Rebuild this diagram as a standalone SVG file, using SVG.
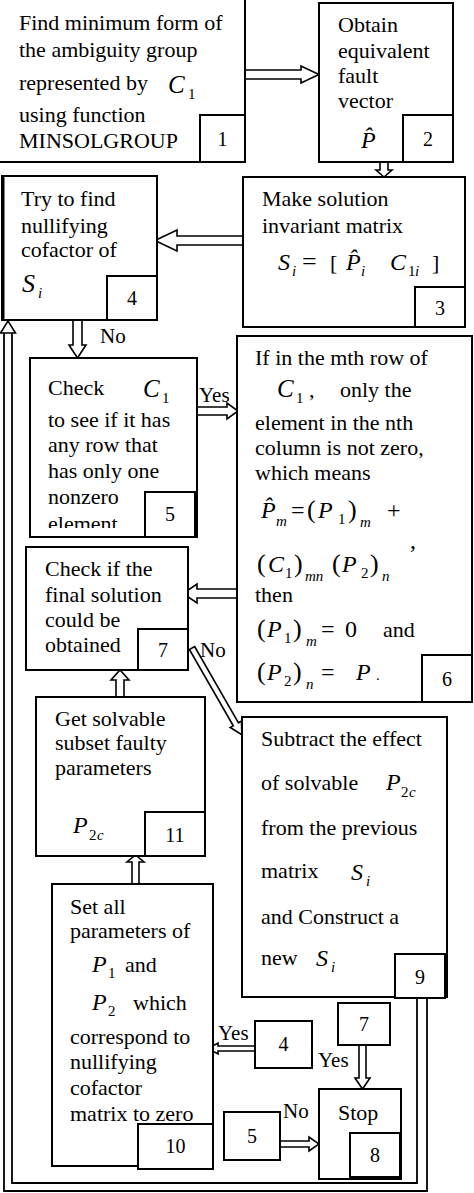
<svg xmlns="http://www.w3.org/2000/svg" width="474" height="1193" viewBox="0 0 474 1193">
<style>
text{font-family:"Liberation Serif","Times New Roman",serif;font-size:22px;fill:#000}
.m{font-style:italic;font-size:24px}
.p{font-size:26px}
.s{font-size:15px}
.si{font-size:15px;font-style:italic}
.n{font-size:20px;text-anchor:middle}
.lb{font-size:21px}
.box{fill:#fff;stroke:#000;stroke-width:2}
.arr{fill:#fff;stroke:#000;stroke-width:1.6;stroke-linejoin:miter}
.lp{fill:none;stroke:#000;stroke-width:1.8}
</style>
<defs>
<clipPath id="c5"><rect x="30" y="358" width="167" height="170"/></clipPath>
</defs>
<rect width="474" height="1193" fill="#fff"/>

<g id="connectors">
<polygon class="arr" points="245,70 301,70 301,66 319,74.5 301,83 301,79 245,79"/>
<polygon class="arr" points="380,162 380,170 376,170 384,177 392,170 388,170 388,162"/>
<polygon class="arr" points="243,236 177,236 177,230 155,240.5 177,251 177,245 243,245"/>
<polygon class="arr" points="73,320 73,345 69,345 77.5,358 86,345 82,345 82,320"/>
<polygon class="arr" points="197,407 227,407 227,403 238,411 227,419 227,415 197,415"/>
<polygon class="arr" points="237,589 197,589 197,584 183,593.5 197,603 197,598 237,598"/>
<polygon class="arr" transform="translate(192,648) rotate(60.1)" points="0,-3 88,-3 88,-6.5 100,0 88,6.5 88,3 0,3"/>
<polygon class="arr" points="116,697 116,680 111,680 120,670 129,680 124,680 124,697"/>
<polygon class="arr" points="132,884 132,862 127,862 135.5,855 144,862 139,862 139,884"/>
<polygon class="arr" points="255,1046 218,1046 218,1043 208,1048.5 218,1054 218,1051 255,1051"/>
<polygon class="arr" points="359,1045 359,1078 355,1078 362.5,1089 370,1078 366,1078 366,1045"/>
<polygon class="arr" points="280,1141 309,1141 309,1137 319,1144 309,1151 309,1147 280,1147"/>
<polyline class="lp" points="427,998 427,1191 4,1191 4,333"/>
<polyline class="lp" points="417,998 417,1183 12,1183 12,333"/>
<polygon class="arr" points="4,333 0.5,333 8,321 15.5,333 12,333"/>
<text class="lb" x="100" y="343">No</text>
<text class="lb" x="199" y="402">Yes</text>
<text class="lb" x="200" y="657">No</text>
<text class="lb" x="218" y="1040">Yes</text>
<text class="lb" x="318" y="1067">Yes</text>
<text class="lb" x="283" y="1118">No</text>
</g>

<g id="n1">
<rect class="box" x="-1" y="-1" width="246" height="163"/>
<text x="19" y="30">Find minimum form of</text>
<text x="19" y="57">the ambiguity group</text>
<text x="19" y="90">represented by</text>
<text class="m" x="168" y="93" style="font-size:25px">C</text>
<text class="s" x="188" y="99">1</text>
<text x="19" y="122">using function</text>
<text x="19" y="148">MINSOLGROUP</text>
<rect class="box" x="200" y="115" width="45" height="47"/>
<text class="n" x="222.5" y="146">1</text>
</g>

<g id="n2">
<rect class="box" x="319" y="3" width="134" height="159"/>
<text x="338" y="32">Obtain</text>
<text x="338" y="58">equivalent</text>
<text x="338" y="83">fault</text>
<text x="338" y="108">vector</text>
<text class="m" x="361" y="148">P̂</text>
<rect class="box" x="403" y="115" width="50" height="47"/>
<text class="n" x="428" y="146">2</text>
</g>

<g id="n3">
<rect class="box" x="243" y="177" width="222" height="150"/>
<text x="262" y="206">Make solution</text>
<text x="262" y="233">invariant matrix</text>
<text class="m" x="278" y="270">S</text>
<text class="si" x="292" y="276">i</text>
<text class="m" x="302" y="270" style="font-style:normal;font-size:26px">=</text>
<text x="330" y="270">[</text>
<text class="m" x="346" y="270">P̂</text>
<text class="si" x="361" y="276">i</text>
<text class="m" x="390" y="270">C</text>
<text class="s" x="408" y="276">1</text>
<text class="si" x="415" y="276">i</text>
<text x="432" y="270">]</text>
<rect class="box" x="415" y="287" width="50" height="40"/>
<text class="n" x="440" y="315">3</text>
</g>

<g id="n4">
<rect class="box" x="2" y="176" width="155" height="144"/>
<line x1="3" y1="176" x2="3" y2="320" stroke="#000" stroke-width="3"/>
<text x="21" y="206">Try to find</text>
<text x="21" y="233">nullifying</text>
<text x="21" y="257">cofactor of</text>
<text class="m" x="22" y="292" style="font-size:26px">S</text>
<text class="si" x="38" y="298">i</text>
<rect class="box" x="107" y="276" width="50" height="44"/>
<text class="n" x="132" y="305">4</text>
</g>

<g id="n5">
<rect class="box" x="30" y="358" width="167" height="179"/>
<g clip-path="url(#c5)">
<text x="48" y="395">Check</text>
<text class="m" x="143" y="397" style="font-size:25px">C</text>
<text class="s" x="162" y="403">1</text>
<text x="48" y="427">to see if it has</text>
<text x="48" y="452">any row that</text>
<text x="48" y="478">has only one</text>
<text x="48" y="504">nonzero</text>
<text x="48" y="531">element</text>
</g>
<rect class="box" x="145" y="492" width="50" height="45"/>
<text class="n" x="170" y="521">5</text>
</g>

<g id="n6">
<rect class="box" x="237" y="336" width="235" height="366"/>
<text x="255" y="365">If in the mth row of</text>
<text class="m" x="277" y="397" style="font-size:25px">C</text>
<text class="s" x="296" y="403">1</text>
<text x="309" y="397">,</text>
<text x="340" y="397">only the</text>
<text x="255" y="430">element in the nth</text>
<text x="255" y="455">column is not zero,</text>
<text x="255" y="480">which means</text>
<text class="m" x="261" y="518">P̂</text>
<text class="si" x="276" y="526">m</text>
<text class="m" x="291" y="518" style="font-style:normal">=</text>
<text class="p" x="307" y="518">(</text>
<text class="m" x="318" y="518">P</text>
<text class="s" x="338" y="524">1</text>
<text class="p" x="348" y="518">)</text>
<text class="si" x="360" y="527">m</text>
<text class="m" x="387" y="518" style="font-style:normal">+</text>
<text class="m" x="410" y="548" style="font-style:normal">,</text>
<text class="p" x="257" y="572">(</text>
<text class="m" x="268" y="572">C</text>
<text class="s" x="285" y="578">1</text>
<text class="p" x="294" y="572">)</text>
<text class="si" x="305" y="581">mn</text>
<text class="p" x="332" y="572">(</text>
<text class="m" x="342" y="572">P</text>
<text class="s" x="361" y="578">2</text>
<text class="p" x="370" y="572">)</text>
<text class="si" x="382" y="581">n</text>
<text x="255" y="602">then</text>
<text class="p" x="257" y="637">(</text>
<text class="m" x="267" y="637">P</text>
<text class="s" x="284" y="643">1</text>
<text class="p" x="293" y="637">)</text>
<text class="si" x="306" y="646">m</text>
<text class="m" x="321" y="637" style="font-style:normal">=</text>
<text class="m" x="345" y="637" style="font-style:normal">0</text>
<text x="383" y="637">and</text>
<text class="p" x="257" y="680">(</text>
<text class="m" x="267" y="680">P</text>
<text class="s" x="284" y="686">2</text>
<text class="p" x="293" y="680">)</text>
<text class="si" x="306" y="689">n</text>
<text class="m" x="321" y="680" style="font-style:normal">=</text>
<text class="m" x="356" y="680">P</text>
<text class="s" x="376" y="680">.</text>
<rect class="box" x="422" y="655" width="50" height="47"/>
<text class="n" x="447" y="686">6</text>
</g>

<g id="n7">
<rect class="box" x="26" y="547" width="162" height="123"/>
<text x="45" y="576">Check if the</text>
<text x="45" y="602">final solution</text>
<text x="45" y="627">could be</text>
<text x="45" y="652">obtained</text>
<rect class="box" x="138" y="629" width="50" height="41"/>
<text class="n" x="163" y="657">7</text>
</g>

<g id="n11">
<rect class="box" x="36" y="697" width="169" height="159"/>
<text x="55" y="726">Get solvable</text>
<text x="55" y="750">subset faulty</text>
<text x="55" y="775">parameters</text>
<text class="m" x="73" y="833">P</text>
<text class="s" x="89" y="840">2</text>
<text class="si" x="97" y="840">c</text>
<rect class="box" x="145" y="812" width="60" height="44"/>
<text class="n" x="175" y="842">11</text>
</g>

<g id="n9">
<rect class="box" x="242" y="717" width="205" height="280"/>
<text x="261" y="746">Subtract the effect</text>
<text x="261" y="790">of solvable</text>
<text class="m" x="386" y="790">P</text>
<text class="s" x="401" y="797">2</text>
<text class="si" x="409" y="797">c</text>
<text x="261" y="835">from the previous</text>
<text x="261" y="878">matrix</text>
<text class="m" x="351" y="880">S</text>
<text class="si" x="366" y="886">i</text>
<text x="261" y="924">and Construct a</text>
<text x="261" y="965">new</text>
<text class="m" x="316" y="966">S</text>
<text class="si" x="331" y="972">i</text>
<rect class="box" x="395" y="954" width="50" height="44"/>
<text class="n" x="420" y="984">9</text>
</g>

<g id="n10">
<rect class="box" x="52" y="884" width="161" height="282"/>
<text x="70" y="914">Set all</text>
<text x="70" y="938">parameters of</text>
<text class="m" x="92" y="972">P</text>
<text class="s" x="108" y="978">1</text>
<text x="125" y="972">and</text>
<text class="m" x="92" y="1010">P</text>
<text class="s" x="108" y="1016">2</text>
<text x="133" y="1010">which</text>
<text x="70" y="1044">correspond to</text>
<text x="70" y="1069">nullifying</text>
<text x="70" y="1095">cofactor</text>
<text x="70" y="1121">matrix to zero</text>
<rect class="box" x="138" y="1124" width="75" height="45"/>
<text class="n" x="175.5" y="1153">10</text>
</g>

<g id="r4">
<rect class="box" x="255" y="1021" width="57" height="47"/>
<text class="n" x="283.5" y="1051">4</text>
</g>
<g id="r7">
<rect class="box" x="338" y="1003" width="52" height="42"/>
<text class="n" x="364" y="1031">7</text>
</g>
<g id="r5">
<rect class="box" x="224" y="1112" width="56" height="48"/>
<text class="n" x="252" y="1143">5</text>
</g>
<g id="n8">
<rect class="box" x="319" y="1089" width="82" height="90"/>
<text x="338" y="1120">Stop</text>
<rect class="box" x="350" y="1133" width="50" height="44"/>
<text class="n" x="375" y="1162">8</text>
</g>
</svg>
